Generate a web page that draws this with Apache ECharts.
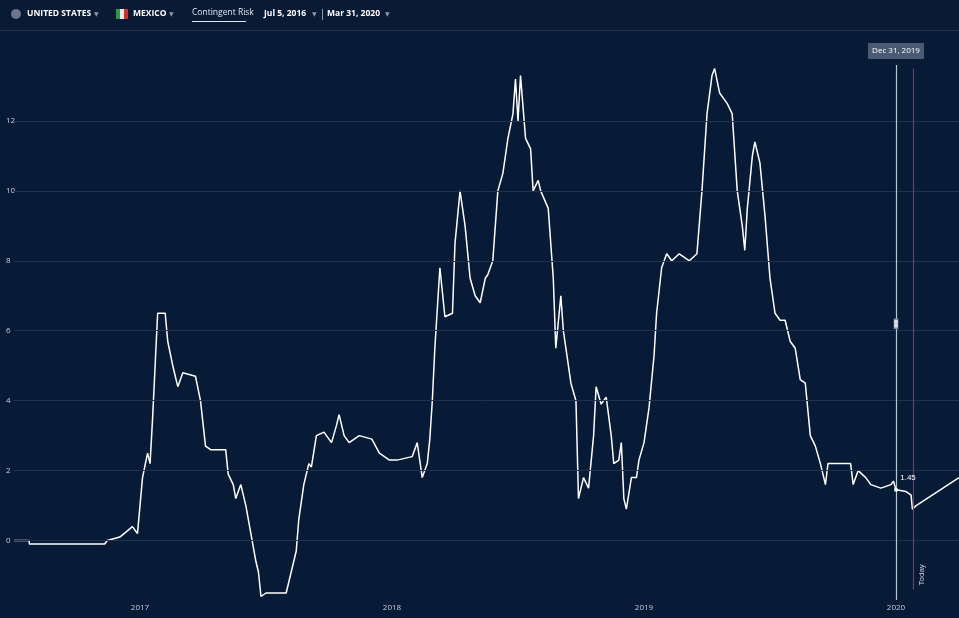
<!DOCTYPE html>
<html lang="en">
<head>
<meta charset="UTF-8">
<title>Contingent Risk</title>
<script src="https://cdn.jsdelivr.net/npm/echarts@6/dist/echarts.min.js"></script>
<style>
  html, body { margin:0; padding:0; background:#071a36; }
  #main { width:959px; height:618px; }
</style>
</head>
<body>
<div id="main"></div>
<script type="text/javascript">
// time as decimal years
var years = [2016.50,2016.56,2016.561,2016.86,2016.87,2016.92,2016.97,2016.99,2017.00,2017.01,2017.03,2017.04,2017.05,2017.06,2017.07,2017.10,2017.11,2017.13,2017.15,2017.17,2017.22,2017.24,2017.26,2017.28,2017.34,2017.35,2017.37,2017.38,2017.40,2017.42,2017.44,2017.46,2017.47,2017.48,2017.50,2017.52,2017.58,2017.60,2017.62,2017.63,2017.65,2017.67,2017.68,2017.70,2017.73,2017.76,2017.78,2017.79,2017.81,2017.83,2017.87,2017.92,2017.95,2017.99,2018.02,2018.08,2018.10,2018.12,2018.14,2018.15,2018.16,2018.17,2018.19,2018.21,2018.24,2018.25,2018.27,2018.28,2018.29,2018.31,2018.33,2018.35,2018.37,2018.38,2018.40,2018.42,2018.44,2018.46,2018.48,2018.49,2018.50,2018.51,2018.53,2018.55,2018.56,2018.58,2018.59,2018.62,2018.64,2018.65,2018.67,2018.68,2018.69,2018.71,2018.73,2018.74,2018.76,2018.78,2018.80,2018.81,2018.83,2018.85,2018.87,2018.88,2018.90,2018.91,2018.92,2018.93,2018.95,2018.97,2018.98,2019.00,2019.02,2019.04,2019.05,2019.07,2019.09,2019.11,2019.14,2019.18,2019.21,2019.23,2019.25,2019.27,2019.28,2019.30,2019.33,2019.35,2019.37,2019.39,2019.40,2019.41,2019.43,2019.44,2019.46,2019.48,2019.50,2019.51,2019.52,2019.54,2019.56,2019.58,2019.60,2019.62,2019.64,2019.66,2019.68,2019.70,2019.72,2019.73,2019.76,2019.82,2019.83,2019.85,2019.88,2019.90,2019.94,2019.98,2019.99,2020.00,2020.04,2020.06,2020.065,2020.08,2020.25];
var risk = [0,0,-0.1,-0.1,0,0.1,0.4,0.2,1.0,1.8,2.5,2.2,3.5,5.0,6.5,6.5,5.7,5.0,4.4,4.8,4.7,4.0,2.7,2.6,2.6,1.9,1.6,1.2,1.6,1.0,0.2,-0.6,-0.9,-1.6,-1.5,-1.5,-1.5,-0.9,-0.3,0.6,1.6,2.2,2.1,3.0,3.1,2.8,3.3,3.6,3.0,2.8,3.0,2.9,2.5,2.3,2.3,2.4,2.8,1.8,2.2,2.9,4.0,5.5,7.8,6.4,6.5,8.5,10.0,9.5,9.0,7.5,7.0,6.8,7.5,7.6,8.0,10.0,10.5,11.5,12.2,13.2,12.0,13.3,11.5,11.2,10.0,10.3,10.0,9.5,7.5,5.5,7.0,6.0,5.5,4.5,4.0,1.2,1.8,1.5,3.0,4.4,3.9,4.1,3.0,2.2,2.3,2.8,1.2,0.9,1.8,1.8,2.3,2.8,3.8,5.3,6.5,7.8,8.2,8.0,8.2,8.0,8.2,10.0,12.2,13.3,13.5,12.8,12.5,12.2,10.0,9.0,8.3,9.5,11.0,11.4,10.8,9.3,7.5,7.0,6.5,6.3,6.3,5.7,5.5,4.6,4.5,3.0,2.7,2.2,1.6,2.2,2.2,2.2,1.6,2.0,1.8,1.6,1.5,1.6,1.7,1.45,1.4,1.3,0.9,1.0,1.8];
var xTicks = [2017, 2018, 2019, 2020];
var yTicks = [0, 2, 4, 6, 8, 10, 12];
var selectedX = 2020.00, selectedLabel = 'Dec 31, 2019', selectedValue = 1.45;
var todayX = 2020.07;

var pts = years.map(function (y, i) { return [y, risk[i]]; });
var myChart = echarts.init(document.getElementById('main'));
var txt = { fill: '#ffffff', fontFamily: 'Open Sans', fontSize: 8.5, fontWeight: 'bold' };
var chev = { fill: '#8d98aa', fontFamily: 'DejaVu Sans', fontSize: 6 };
myChart.setOption({
    backgroundColor: '#071a36',
    animation: false,
    grid: { left: 14, right: 0, top: 30, bottom: 18 },
    xAxis: {
        type: 'value', min: 2016.5, max: 2020.25,
        axisLine: { show: false }, axisTick: { show: false }, splitLine: { show: false },
        axisLabel: { customValues: xTicks, color: '#c8d0dc', fontSize: 8, fontFamily: 'Open Sans', margin: 4,
                     formatter: function (v) { return String(Math.round(v)); } }
    },
    yAxis: {
        type: 'value', min: -1.7, max: 14.6,
        axisLine: { show: false }, axisTick: { show: false },
        splitLine: { show: false },
        axisLabel: { customValues: yTicks, inside: true, color: '#c8d0dc', fontSize: 8, fontFamily: 'Open Sans', margin: -8 }
    },
    series: [{
        type: 'line', data: pts, showSymbol: false, silent: true,
        lineStyle: { color: '#ffffff', width: 1.5 },
        markLine: {
            symbol: 'none', silent: true, animation: false,
            data: yTicks.map(function (t) { return { yAxis: t, lineStyle: { color: '#1f3350', width: 1, type: 'solid' }, label: { show: false } }; }).concat([
                [{ coord: [selectedX, -1.7], lineStyle: { color: '#b8c4d4', width: 1.2, type: 'solid' }, label: { show: false } }, { coord: [selectedX, 13.6] }],
                [{ coord: [todayX, -1.4], lineStyle: { color: '#9a2c3c', width: 1.2, type: 'solid' },
                   label: { show: true, position: 'insideStartBottom', formatter: 'Today', color: '#c8d0dc', fontSize: 8, distance: 4 } },
                 { coord: [todayX, 13.5] }]
            ])
        },
        markPoint: {
            silent: true, animation: false,
            data: [
                { coord: [selectedX, selectedValue], symbol: 'circle', symbolSize: 4, itemStyle: { color: '#ffffff' },
                  label: { show: true, formatter: String(selectedValue), color: '#ffffff', fontSize: 8, offset: [12, -12] } },
                { coord: [selectedX, 6.2], symbol: 'rect', symbolSize: [4, 9], itemStyle: { color: '#dfe5ee', borderColor: '#8190a6', borderWidth: 1 }, label: { show: false } },
                { coord: [selectedX, 14.0], symbol: 'rect', symbolSize: [56, 16], itemStyle: { color: '#4a5a72' },
                  label: { show: true, position: 'inside', formatter: selectedLabel, color: '#ffffff', fontSize: 8, fontFamily: 'Open Sans' } }
            ]
        }
    }],
    graphic: [
        { type: 'rect', left: 0, top: 0, shape: { width: 959, height: 30 }, style: { fill: '#081a34' } },
        { type: 'rect', left: 0, top: 30, shape: { width: 959, height: 1 }, style: { fill: '#1e3050' } },
        { type: 'circle', left: 11, top: 9, shape: { r: 5 }, style: { fill: '#6b7590' } },
        { type: 'text', left: 27, top: 9, style: Object.assign({ text: 'UNITED STATES' }, txt) },
        { type: 'text', left: 94, top: 11, style: Object.assign({ text: '▼' }, chev) },
        { type: 'rect', left: 116, top: 9, shape: { width: 4, height: 10 }, style: { fill: '#2c9a45' } },
        { type: 'rect', left: 120, top: 9, shape: { width: 4, height: 10 }, style: { fill: '#e8e8e8' } },
        { type: 'rect', left: 124, top: 9, shape: { width: 4, height: 10 }, style: { fill: '#d03030' } },
        { type: 'text', left: 133, top: 9, style: Object.assign({ text: 'MEXICO' }, txt) },
        { type: 'text', left: 169, top: 11, style: Object.assign({ text: '▼' }, chev) },
        { type: 'text', left: 192, top: 8, style: { text: 'Contingent Risk', fill: '#e0e6ee', fontFamily: 'Open Sans', fontSize: 8.5 } },
        { type: 'rect', left: 192, top: 21, shape: { width: 54, height: 1 }, style: { fill: '#e0e6ee' } },
        { type: 'text', left: 264, top: 9, style: Object.assign({ text: 'Jul 5, 2016' }, txt) },
        { type: 'text', left: 312, top: 11, style: Object.assign({ text: '▼' }, chev) },
        { type: 'rect', left: 322, top: 9, shape: { width: 1, height: 11 }, style: { fill: '#8d98aa' } },
        { type: 'text', left: 327, top: 9, style: Object.assign({ text: 'Mar 31, 2020' }, txt) },
        { type: 'text', left: 385, top: 11, style: Object.assign({ text: '▼' }, chev) }
    ]
});
</script>
</body>
</html>
